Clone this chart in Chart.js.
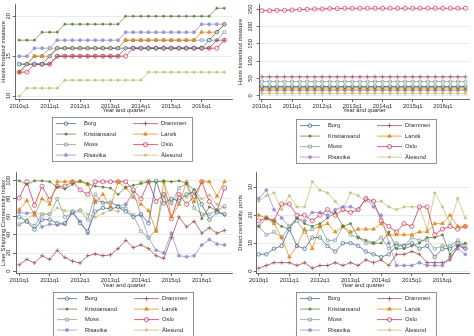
<!DOCTYPE html>
<html>
<head>
<meta charset="utf-8">
<script src="https://cdn.jsdelivr.net/npm/chart.js@4.4.1/dist/chart.umd.min.js"></script>
<style>
body { margin: 0; background: #fff; width: 474px; height: 336px; overflow: hidden; position: relative; }
canvas { position: absolute; }
</style>
</head>
<body>
<canvas id="foreland" width="237" height="168" style="left:0;top:0"></canvas>
<canvas id="hinterland" width="237" height="168" style="left:237px;top:0"></canvas>
<canvas id="lsci" width="237" height="168" style="left:0;top:168px"></canvas>
<canvas id="centrality" width="237" height="168" style="left:237px;top:168px"></canvas>
<script>
var ports = ['Borg', 'Drammen', 'Kristiansand', 'Larvik', 'Moss', 'Oslo', 'Risavika', 'Ålesund'];

var quarters = [];
for (var yr = 2010; yr <= 2016; yr++) {
    for (var q = 1; q <= 4; q++) quarters.push(yr + 'q' + q);
}
var xTickIdx = [0, 4, 8, 12, 16, 20, 24];

// Hanis foreland measure
var forelandBorg = [14,14,14,14,15,16,16,16,16,16,16,16,16,16,16,16,16,16,16,16,16,16,16,16,16,17,18,19];
var forelandDrammen = [13,14,14,14,14,15,15,15,15,15,15,15,15,15,16,16,16,16,16,16,16,16,16,16,16,16,17,17];
var forelandKristiansand = [17,17,17,18,18,18,19,19,19,19,19,19,19,19,20,20,20,20,20,20,20,20,20,20,20,20,21,21];
var forelandLarvik = [13,14,15,15,15,16,16,16,16,16,16,16,16,16,17,17,17,17,17,17,17,17,17,17,18,18,18,19];
var forelandMoss = [14,14,15,15,16,16,16,16,16,16,16,16,16,16,17,17,17,17,17,17,17,17,17,17,17,17,17,18];
var forelandOslo = [13,13,14,14,14,15,15,15,15,15,15,15,15,15,15,16,16,16,16,16,16,16,16,16,16,16,16,17];
var forelandRisavika = [15,15,16,16,16,17,17,17,17,17,17,17,17,17,18,18,18,18,18,18,18,18,18,18,19,19,19,19];
var forelandAlesund = [10,11,11,11,11,11,12,12,12,12,12,12,12,12,12,12,12,13,13,13,13,13,13,13,13,13,13,13];

// Hanis hinterland measure
var hinterBorg = [27,27,27,27,27,27,27,27,27,27,27,27,27,27,27,27,27,27,27,27,27,27,27,27,27,27,27,27];
var hinterDrammen = [55,55,55,55,55,55,55,55,55,55,55,55,55,55,55,55,55,55,55,55,55,55,55,55,55,55,55,55];
var hinterKristiansand = [25,25,25,25,25,25,25,25,25,25,25,25,25,25,25,25,25,25,25,25,25,25,25,25,25,25,25,25];
var hinterLarvik = [20,20,20,20,20,20,20,20,20,20,20,20,20,20,20,20,20,20,20,20,20,20,20,20,20,20,20,20];
var hinterMoss = [41,41,41,41,41,41,41,41,41,41,41,41,41,41,41,41,41,41,41,41,41,41,41,41,41,41,41,41];
var hinterOslo = [246,246,247,247,248,249,250,251,251,252,252,253,253,253,253,253,253,253,253,253,253,253,253,253,253,253,253,253];
var hinterRisavika = [16,16,16,16,16,16,16,16,16,16,16,16,16,16,16,16,16,16,16,16,16,16,16,16,16,16,16,16];
var hinterAlesund = [7,7,7,7,7,7,7,7,7,7,7,7,7,7,7,7,7,7,7,7,7,7,7,7,7,7,7,7];

// Liner Shipping Connectivity Index
var lsciBorg = [60,55,46,57,57,53,53,66,53,44,66,70,69,71,66,60,63,53,100,75,80,78,85,88,74,57,65,63];
var lsciDrammen = [7,13,9,17,13,23,15,11,9,17,19,17,18,25,34,26,29,25,17,14,37,60,49,55,42,48,42,45];
var lsciKristiansand = [100,96,100,100,99,93,91,96,100,97,94,93,92,85,93,95,97,99,99,100,99,100,97,90,58,71,67,62];
var lsciLarvik = [68,78,62,80,74,99,99,99,99,96,76,85,71,99,92,82,74,67,44,99,60,74,99,77,99,99,83,99];
var lsciMoss = [52,55,50,63,63,80,60,64,67,57,85,75,76,72,69,62,44,37,46,85,75,92,97,70,63,63,67,72];
var lsciOslo = [81,99,73,94,79,94,94,99,90,85,99,99,99,99,99,90,80,99,77,85,58,85,74,83,99,77,67,92];
var lsciRisavika = [65,64,65,49,52,51,52,65,55,42,78,76,76,72,74,88,62,37,23,20,42,17,16,17,29,35,30,29];
var lsciAlesund = [51,57,64,63,63,70,67,66,68,63,60,64,68,66,73,88,99,99,99,99,75,85,82,90,80,84,74,70];

// Direct centrality, ports
var centBorg = [6,6,8,9,15,9,8,12,12,9,7,10,10,9,7,6,5,6,9,9,10,8,9,5,8,8,10,8];
var centDrammen = [1,2,3,3,3,2,3,1,2,2,3,2,3,2,4,3,4,2,6,6,7,6,3,3,3,4,9,8];
var centKristiansand = [16,19,18,16,15,19,17,16,17,19,21,16,17,12,11,10,10,14,8,8,9,10,12,12,13,6,9,10];
var centLarvik = [20,19,17,12,5,9,15,8,16,17,14,16,14,15,15,15,17,13,13,13,13,14,14,17,17,20,16,16];
var centMoss = [16,13,14,12,16,18,14,15,16,11,11,16,13,12,10,10,12,8,10,9,12,11,11,8,9,9,11,9];
var centOslo = [18,19,18,24,24,20,20,18,20,22,20,22,21,22,26,25,18,16,14,17,16,23,23,13,15,16,15,16];
var centRisavika = [26,29,22,19,16,19,18,21,21,20,22,23,23,22,26,23,20,10,2,2,2,3,2,2,2,5,8,6];
var centAlesund = [25,27,28,22,27,23,23,32,29,28,25,22,28,27,25,25,25,23,22,23,23,23,15,28,23,17,26,19];

// stata s2color palette, slightly faded
var lineColors = ['rgba(26,71,111,0.7)', 'rgba(144,53,59,0.75)', 'rgba(85,117,47,0.75)', 'rgba(227,126,0,0.75)',
    'rgba(110,142,132,0.75)', 'rgba(193,5,52,0.7)', 'rgba(147,141,210,0.85)', 'rgba(202,194,126,0.9)'];
var markerFills = ['rgba(255,255,255,0.6)', 'rgba(144,53,59,0.75)', 'rgba(85,117,47,0.75)', 'rgba(227,126,0,0.75)',
    'rgba(255,255,255,0.6)', 'rgba(255,255,255,0.6)', 'rgba(147,141,210,0.85)', 'rgba(202,194,126,0.9)'];
var markerStyles = ['circle', 'cross', 'circle', 'triangle', 'rect', 'circle', 'circle', 'circle'];
var markerSizes = [1.8, 2.1, 1.1, 2.1, 2, 2.1, 1.5, 1.2];

var font = { family: '"Liberation Sans", Arial, sans-serif', size: 5.8 };
var inkColor = '#2a2a2a';

// two-column boxed legend under each panel
var portLegend = {
    id: 'portLegend',
    afterDraw: function (chart, args, opts) {
        var ctx = chart.ctx;
        var bx = opts.x, by = opts.y;
        ctx.save();
        ctx.strokeStyle = '#777';
        ctx.lineWidth = 0.8;
        ctx.strokeRect(bx + 0.5, by + 0.5, 140, 44);
        chart.data.datasets.forEach(function (ds, k) {
            var col = k % 2, row = Math.floor(k / 2);
            var lx = bx + (col ? 81 : 4), ly = by + 6.6 + row * 10.5;
            var len = col ? 25 : 20;
            ctx.strokeStyle = ds.borderColor;
            ctx.lineWidth = 0.9;
            ctx.beginPath();
            ctx.moveTo(lx, ly);
            ctx.lineTo(lx + len, ly);
            ctx.stroke();
            ctx.fillStyle = ds.pointBackgroundColor;
            ctx.strokeStyle = ds.pointBorderColor;
            Chart.helpers.drawPoint(ctx, { pointStyle: ds.pointStyle, radius: ds.pointRadius, borderWidth: 0.9, rotation: 0 }, lx + len / 2, ly);
            ctx.fillStyle = inkColor;
            ctx.font = font.size + 'px ' + font.family;
            ctx.textBaseline = 'middle';
            ctx.textAlign = 'left';
            ctx.fillText(ds.label, col ? bx + 109 : bx + 32, ly);
        });
        ctx.restore();
    }
};

function portChart(canvasId, panel) {
    var ctx = document.getElementById(canvasId).getContext('2d');
    var datasets = ports.map(function (name, k) {
        return {
            label: name,
            data: panel.values[k].map(function (v, i) { return { x: i, y: v }; }),
            borderColor: lineColors[k],
            backgroundColor: markerFills[k],
            pointBackgroundColor: markerFills[k],
            pointBorderColor: lineColors[k],
            pointStyle: markerStyles[k],
            pointRadius: markerSizes[k],
            pointBorderWidth: 0.8,
            borderWidth: 0.9,
            tension: 0,
            clip: false
        };
    });
    return new Chart(ctx, {
        type: 'line',
        data: { datasets: datasets },
        plugins: [portLegend],
        options: {
            responsive: false,
            animation: false,
            events: [],
            layout: { padding: panel.padding },
            plugins: {
                legend: { display: false },
                tooltip: { enabled: false },
                portLegend: panel.legend
            },
            scales: {
                x: {
                    type: 'linear',
                    min: panel.xMin,
                    max: panel.xMax,
                    afterBuildTicks: function (s) { s.ticks = xTickIdx.map(function (v) { return { value: v }; }); },
                    afterFit: function (s) { s.height = panel.xHeight; s.paddingLeft = 0; s.paddingRight = 0; },
                    ticks: {
                        autoSkip: false, minRotation: 0, maxRotation: 0, padding: 0.5,
                        color: inkColor, font: font,
                        callback: function (v) { return quarters[v]; }
                    },
                    grid: { drawOnChartArea: false, tickLength: 3, tickColor: '#444', color: '#444', lineWidth: 0.8 },
                    border: { display: true, color: '#444', width: 0.8 },
                    title: { display: true, text: 'Year and quarter', color: inkColor, font: font, padding: 0 }
                },
                y: {
                    min: panel.yMin,
                    max: panel.yMax,
                    afterBuildTicks: function (s) { s.ticks = panel.yTicks.map(function (v) { return { value: v }; }); },
                    afterFit: function (s) { s.width = panel.yWidth; s.paddingTop = 0; s.paddingBottom = 0; },
                    ticks: {
                        minRotation: 90, maxRotation: 90, crossAlign: 'center', padding: panel.yPad,
                        color: inkColor, font: font
                    },
                    grid: { color: '#e6e6e6', lineWidth: 0.8, tickLength: 3, tickColor: '#444' },
                    border: { display: true, color: '#444', width: 0.8 },
                    title: { display: true, text: panel.yTitle, color: inkColor, font: font, padding: 0 }
                }
            }
        }
    });
}

portChart('foreland', {
    values: [forelandBorg, forelandDrammen, forelandKristiansand, forelandLarvik, forelandMoss, forelandOslo, forelandRisavika, forelandAlesund],
    yTitle: 'Hanis foreland measure', yTicks: [10, 15, 20], yMin: 9.64, yMax: 21.43,
    xMin: -0.47, xMax: 28.03, yWidth: 15.7, yPad: 1.5, xHeight: 15,
    padding: { top: 0, right: 2, bottom: 54, left: 0 },
    legend: { x: 52, y: 117 }
});

portChart('hinterland', {
    values: [hinterBorg, hinterDrammen, hinterKristiansand, hinterLarvik, hinterMoss, hinterOslo, hinterRisavika, hinterAlesund],
    yTitle: 'Hanis hinterland measure', yTicks: [0, 50, 100, 150, 200, 250], yMin: -9.2, yMax: 263,
    xMin: -0.3, xMax: 27.5, yWidth: 22.7, yPad: 1.5, xHeight: 15,
    padding: { top: 0, right: 1, bottom: 54, left: 0 },
    legend: { x: 59, y: 119 }
});

portChart('lsci', {
    values: [lsciBorg, lsciDrammen, lsciKristiansand, lsciLarvik, lsciMoss, lsciOslo, lsciRisavika, lsciAlesund],
    yTitle: 'Liner Shipping Connectivity Index', yTicks: [0, 20, 40, 60, 80, 100], yMin: -2.1, yMax: 108.9,
    xMin: -0.43, xMax: 28.0, yWidth: 16, yPad: 0.2, xHeight: 15.5,
    padding: { top: 1, right: 2, bottom: 47.5, left: 0 },
    legend: { x: 53, y: 124 }
});

portChart('centrality', {
    values: [centBorg, centDrammen, centKristiansand, centLarvik, centMoss, centOslo, centRisavika, centAlesund],
    yTitle: 'Direct centrality, ports', yTicks: [0, 10, 20, 30], yMin: -0.7, yMax: 35.2,
    xMin: -0.26, xMax: 27.5, yWidth: 19.7, yPad: 0, xHeight: 15.5,
    padding: { top: 1, right: 1, bottom: 47.5, left: 0 },
    legend: { x: 59, y: 124 }
});
</script>
</body>
</html>
